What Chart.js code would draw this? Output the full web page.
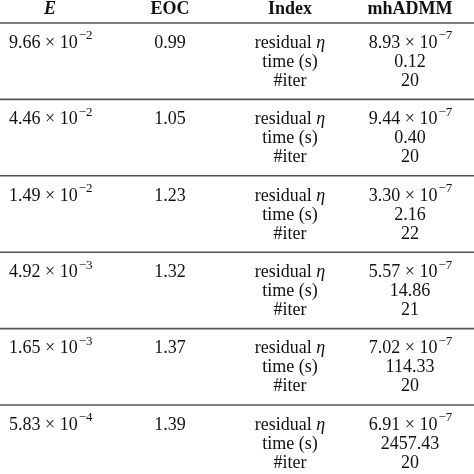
<!DOCTYPE html>
<html>
<head>
<meta charset="utf-8">
<script src="https://cdn.jsdelivr.net/npm/chart.js@4"></script>
<style>html,body{margin:0;padding:0;background:#fff}</style>
</head>
<body>
<canvas id="c" width="474" height="474"></canvas>
<script>
// table data
const headers = ['E', 'EOC', 'Index', 'mhADMM'];
const errMant = ['9.66', '4.46', '1.49', '4.92', '1.65', '5.83'];
const errExp = ['-2', '-2', '-2', '-3', '-3', '-4'];
const eoc = ['0.99', '1.05', '1.23', '1.32', '1.37', '1.39'];
const indexLabels = ['residual η', 'time (s)', '#iter'];
const resMant = ['8.93', '9.44', '3.30', '5.57', '7.02', '6.91'];
const resExp = ['-7', '-7', '-7', '-7', '-7', '-7'];
const times = ['0.12', '0.40', '2.16', '14.86', '114.33', '2457.43'];
const iters = ['20', '20', '22', '21', '20', '20'];

const FONT = '"Liberation Serif", serif';
const SIZE = 18;
const rowTop = 23, rowH = 76.4;

function sci(ctx, m, e, x, y, align) {
  const a = m + ' × 10';
  const sup = e.replace('-', '−');
  ctx.font = '13px ' + FONT;
  const ws = ctx.measureText(sup).width;
  ctx.font = SIZE + 'px ' + FONT;
  const wa = ctx.measureText(a).width;
  const x0 = align === 'left' ? x : x - (wa + ws) / 2;
  ctx.textAlign = 'left';
  ctx.fillText(a, x0, y);
  ctx.font = '13px ' + FONT;
  ctx.fillText(sup, x0 + wa + 1, y - 7);
  ctx.font = SIZE + 'px ' + FONT;
}

// "residual η" with an italic eta
function residual(ctx, label, x, y) {
  const base = label.slice(0, -1), eta = label.slice(-1);
  ctx.font = SIZE + 'px ' + FONT;
  const wb = ctx.measureText(base).width;
  ctx.font = 'italic ' + SIZE + 'px ' + FONT;
  const we = ctx.measureText(eta).width;
  const x0 = x - (wb + we) / 2;
  ctx.textAlign = 'left';
  ctx.fillText(eta, x0 + wb, y);
  ctx.font = SIZE + 'px ' + FONT;
  ctx.fillText(base, x0, y);
  ctx.textAlign = 'center';
}

const tablePlugin = {
  id: 'table',
  afterDraw(chart) {
    const ctx = chart.ctx, xs = chart.scales.x, ys = chart.scales.y;
    const X = v => xs.getPixelForValue(v), Y = v => ys.getPixelForValue(v);
    ctx.save();
    ctx.fillStyle = '#111';
    ctx.textBaseline = 'middle';
    // header
    ctx.textAlign = 'center';
    ctx.font = 'italic bold ' + SIZE + 'px ' + FONT;
    ctx.fillText(headers[0], X(50), Y(9));
    ctx.font = 'bold ' + SIZE + 'px ' + FONT;
    ctx.fillText(headers[1], X(170), Y(9));
    ctx.fillText(headers[2], X(290), Y(9));
    ctx.fillText(headers[3], X(410), Y(9));
    // rules
    ctx.strokeStyle = '#555';
    ctx.lineWidth = 1.6;
    for (let i = 0; i < errMant.length; i++) {
      const yl = rowTop + i * rowH;
      ctx.beginPath(); ctx.moveTo(X(0), Y(yl)); ctx.lineTo(X(474), Y(yl)); ctx.stroke();
    }
    ctx.font = SIZE + 'px ' + FONT;
    for (let i = 0; i < errMant.length; i++) {
      const y0 = rowTop + i * rowH;
      const y1 = Y(y0 + 20), y2 = Y(y0 + 39), y3 = Y(y0 + 58);
      sci(ctx, errMant[i], errExp[i], X(9), y1, 'left');
      ctx.textAlign = 'center';
      ctx.fillText(eoc[i], X(170), y1);
      residual(ctx, indexLabels[0], X(290), y1);
      ctx.fillText(indexLabels[1], X(290), y2);
      ctx.fillText(indexLabels[2], X(290), y3);
      sci(ctx, resMant[i], resExp[i], X(410), y1, 'center');
      ctx.textAlign = 'center';
      ctx.fillText(times[i], X(410), y2);
      ctx.fillText(iters[i], X(410), y3);
    }
    ctx.restore();
  }
};

new Chart(document.getElementById('c'), {
  type: 'scatter',
  data: { datasets: [{ data: [] }] },
  options: {
    responsive: false,
    animation: false,
    layout: { padding: 0 },
    plugins: { legend: { display: false }, tooltip: { enabled: false } },
    scales: {
      x: { type: 'linear', min: 0, max: 474, display: false },
      y: { type: 'linear', min: 0, max: 474, reverse: true, display: false }
    }
  },
  plugins: [tablePlugin]
});
</script>
</body>
</html>
